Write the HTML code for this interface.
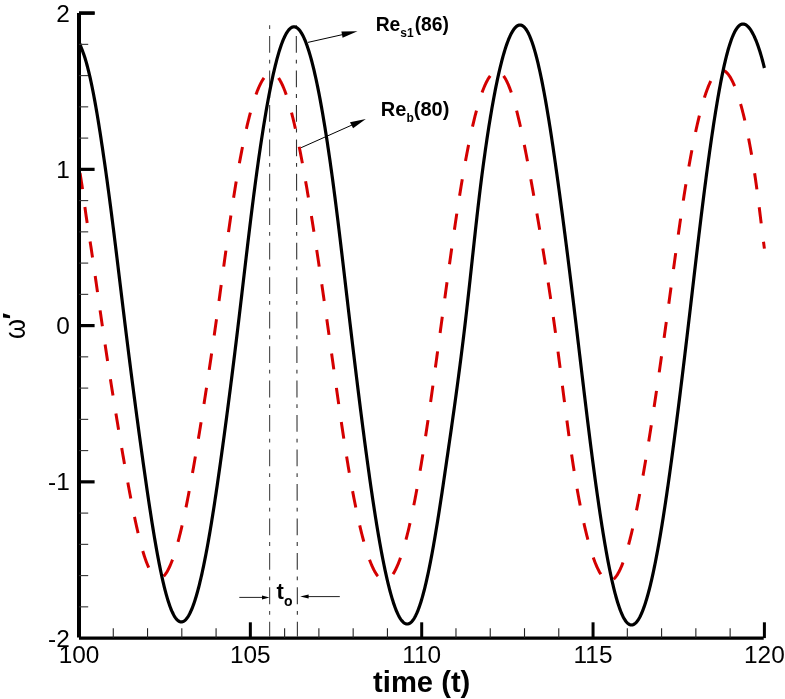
<!DOCTYPE html>
<html><head><meta charset="utf-8"><title>plot</title>
<style>html,body{margin:0;padding:0;background:#fff;width:785px;height:699px;overflow:hidden}svg{display:block}</style>
</head><body>
<svg width="785" height="699" viewBox="0 0 785 699">
<style>
.tl{font-family:"Liberation Sans",Arial,sans-serif;font-size:24.4px;fill:#000}
.bd{font-family:"Liberation Sans",Arial,sans-serif;font-weight:bold;fill:#000}
</style>
<rect width="785" height="699" fill="#fff"/>
<!-- dash-dot vertical lines -->
<line x1="269.6" y1="25.2" x2="269.6" y2="636.5" stroke="#555" stroke-width="1.2" stroke-dasharray="3.8 7.0 16.8 6.86"/>
<line x1="296.3" y1="25.2" x2="297.4" y2="636.5" stroke="#333" stroke-width="1.1" stroke-dasharray="3.8 7.0 16.8 6.86"/>
<!-- red dashed curve -->
<path d="M80.00,172.97 L80.30,174.82 L80.60,176.69 L80.90,178.56 L81.20,180.46 L81.50,182.36 L81.80,184.30 L82.10,186.31 L82.40,188.38 L82.50,189.09 M84.90,207.04 L85.20,209.27 L85.50,211.47 L85.80,213.61 L86.10,215.69 L86.40,217.73 L86.70,219.74 L87.00,221.72 L87.20,223.04 M90.10,241.52 L90.40,243.45 L90.70,245.39 L91.00,247.35 L91.30,249.33 L91.60,251.34 L91.90,253.36 L92.20,255.38 L92.50,257.42 M95.20,276.02 L95.50,278.11 L95.80,280.21 L96.10,282.30 L96.40,284.41 L96.70,286.51 L97.00,288.62 L97.30,290.72 L97.50,292.13 M100.10,310.36 L100.40,312.45 L100.70,314.54 L101.00,316.63 L101.30,318.71 L101.60,320.78 L101.90,322.85 L102.20,324.91 L102.40,326.29 M105.10,344.56 L105.40,346.57 L105.70,348.56 L106.00,350.56 L106.30,352.54 L106.60,354.52 L106.90,356.50 L107.20,358.47 L107.50,360.44 L107.60,361.09 M110.40,379.17 L110.70,381.09 L111.00,382.99 L111.30,384.89 L111.60,386.79 L111.90,388.68 L112.20,390.57 L112.50,392.45 L112.80,394.33 L113.00,395.58 M115.90,413.46 L116.20,415.28 L116.50,417.11 L116.80,418.92 L117.10,420.73 L117.40,422.54 L117.70,424.35 L118.00,426.14 L118.30,427.94 L118.60,429.73 M121.70,447.97 L122.00,449.71 L122.30,451.44 L122.60,453.17 L122.90,454.90 L123.20,456.62 L123.50,458.34 L123.80,460.05 L124.10,461.76 L124.40,463.46 L124.50,464.03 M127.80,482.40 L128.10,484.03 L128.40,485.66 L128.70,487.29 L129.00,488.90 L129.30,490.51 L129.60,492.11 L129.90,493.70 L130.20,495.28 L130.50,496.86 L130.80,498.42 M134.50,516.89 L134.80,518.31 L135.10,519.72 L135.40,521.12 L135.70,522.51 L136.00,523.88 L136.30,525.24 L136.60,526.58 L136.90,527.91 L137.20,529.23 L137.50,530.54 L137.80,531.83 L138.10,533.10 M142.80,551.05 L143.10,552.06 L143.40,553.05 L143.70,554.02 L144.00,554.98 L144.30,555.92 L144.60,556.84 L144.90,557.74 L145.20,558.62 L145.50,559.49 L145.80,560.34 L146.10,561.17 L146.40,561.98 L146.70,562.77 L147.00,563.54 L147.30,564.29 L147.60,565.03 L147.90,565.75 L148.20,566.44 L148.50,567.12 L148.70,567.56 M163.60,576.27 L163.90,575.96 L164.20,575.64 L164.50,575.30 L164.80,574.94 L165.10,574.57 L165.40,574.17 L165.70,573.76 L166.00,573.33 L166.30,572.88 L166.60,572.41 L166.90,571.93 L167.20,571.42 L167.50,570.90 L167.80,570.36 L168.10,569.81 L168.40,569.23 L168.70,568.64 L169.00,568.03 L169.30,567.40 L169.60,566.76 L169.90,566.10 L170.20,565.42 L170.50,564.72 L170.80,564.01 L171.10,563.28 L171.40,562.53 L171.70,561.76 L172.00,560.98 L172.30,560.18 L172.50,559.64 M178.00,541.92 L178.30,540.80 L178.60,539.67 L178.90,538.52 L179.20,537.36 L179.50,536.18 L179.80,534.99 L180.10,533.78 L180.40,532.56 L180.70,531.33 L181.00,530.08 L181.30,528.82 L181.60,527.55 L181.90,526.26 L182.10,525.39 M186.00,507.33 L186.30,505.86 L186.60,504.37 L186.90,502.87 L187.20,501.36 L187.50,499.84 L187.80,498.31 L188.10,496.76 L188.40,495.21 L188.70,493.64 L189.00,492.07 L189.20,491.01 M192.50,472.98 L192.80,471.29 L193.10,469.60 L193.40,467.90 L193.70,466.19 L194.00,464.48 L194.30,462.76 L194.60,461.04 L194.90,459.30 L195.20,457.57 L195.40,456.40 M198.40,438.64 L198.70,436.83 L199.00,435.02 L199.30,433.19 L199.60,431.37 L199.90,429.53 L200.20,427.70 L200.50,425.85 L200.80,424.00 L201.10,422.14 M204.00,403.90 L204.30,401.98 L204.60,400.06 L204.90,398.13 L205.20,396.20 L205.50,394.25 L205.80,392.31 L206.10,390.36 L206.40,388.40 L206.50,387.74 M209.20,369.85 L209.50,367.83 L209.80,365.81 L210.10,363.78 L210.40,361.75 L210.70,359.71 L211.00,357.66 L211.30,355.61 L211.60,353.56 M214.20,335.50 L214.50,333.39 L214.80,331.27 L215.10,329.15 L215.40,327.02 L215.70,324.89 L216.00,322.75 L216.30,320.60 L216.50,319.17 M219.00,301.06 L219.30,298.87 L219.60,296.68 L219.90,294.49 L220.20,292.29 L220.50,290.09 L220.80,287.89 L221.10,285.69 L221.20,284.95 M223.70,266.63 L224.00,264.44 L224.30,262.25 L224.60,260.07 L224.90,257.88 L225.20,255.71 L225.50,253.53 L225.80,251.37 L225.90,250.65 M228.50,232.13 L228.80,230.02 L229.10,227.93 L229.40,225.85 L229.70,223.77 L230.00,221.70 L230.30,219.65 L230.60,217.60 L230.90,215.57 M233.60,197.75 L233.90,195.83 L234.20,193.93 L234.50,192.04 L234.80,190.16 L235.10,188.30 L235.40,186.45 L235.70,184.61 L236.00,182.79 L236.20,181.59 M239.40,163.24 L239.70,161.60 L240.00,159.98 L240.30,158.38 L240.60,156.78 L240.90,155.20 L241.20,153.64 L241.50,152.09 L241.80,150.55 L242.10,149.03 L242.40,147.53 L242.50,147.03 M246.40,128.80 L246.70,127.50 L247.00,126.21 L247.30,124.94 L247.60,123.69 L247.90,122.44 L248.20,121.22 L248.50,120.00 L248.80,118.80 L249.10,117.62 L249.40,116.45 L249.70,115.30 L250.00,114.16 L250.30,113.04 L250.40,112.66 M256.00,94.53 L256.30,93.71 L256.60,92.90 L256.90,92.11 L257.20,91.33 L257.50,90.57 L257.80,89.82 L258.10,89.09 L258.40,88.38 L258.70,87.68 L259.00,87.00 L259.30,86.33 L259.60,85.68 L259.90,85.04 L260.20,84.42 L260.50,83.82 L260.80,83.23 L261.10,82.66 L261.40,82.10 L261.70,81.56 L262.00,81.03 L262.30,80.52 L262.60,80.03 L262.90,79.55 L263.20,79.09 L263.50,78.65 L263.80,78.22 L264.00,77.94 M278.50,78.00 L278.80,78.43 L279.10,78.88 L279.40,79.35 L279.70,79.84 L280.00,80.34 L280.30,80.87 L280.60,81.41 L280.90,81.96 L281.20,82.54 L281.50,83.13 L281.80,83.74 L282.10,84.37 L282.40,85.01 L282.70,85.68 L283.00,86.36 L283.30,87.05 L283.60,87.77 L283.90,88.50 L284.20,89.25 L284.50,90.01 L284.80,90.79 L285.10,91.59 L285.40,92.41 L285.70,93.24 L286.00,94.09 L286.20,94.67 M291.50,112.54 L291.80,113.69 L292.10,114.87 L292.40,116.05 L292.70,117.26 L293.00,118.47 L293.30,119.70 L293.60,120.95 L293.90,122.21 L294.20,123.48 L294.50,124.77 L294.80,126.07 L295.10,127.39 L295.40,128.72 M299.20,146.70 L299.50,148.21 L299.80,149.72 L300.10,151.25 L300.40,152.79 L300.70,154.35 L301.00,155.91 L301.30,157.48 L301.60,159.07 L301.90,160.66 L302.20,162.27 L302.40,163.35 M305.60,181.16 L305.90,182.89 L306.20,184.62 L306.50,186.36 L306.80,188.11 L307.10,189.86 L307.40,191.63 L307.70,193.40 L308.00,195.18 L308.30,196.97 L308.40,197.57 M311.40,215.89 L311.70,217.76 L312.00,219.64 L312.30,221.53 L312.60,223.42 L312.90,225.32 L313.20,227.23 L313.50,229.14 L313.80,231.06 L313.90,231.70 M316.70,249.92 L317.00,251.90 L317.30,253.89 L317.60,255.88 L317.90,257.88 L318.20,259.88 L318.50,261.89 L318.80,263.90 L319.10,265.92 L319.20,266.60 M321.80,284.31 L322.10,286.37 L322.40,288.44 L322.70,290.51 L323.00,292.59 L323.30,294.67 L323.60,296.76 L323.90,298.85 L324.20,300.94 M326.80,319.22 L327.10,321.34 L327.40,323.47 L327.70,325.60 L328.00,327.73 L328.30,329.87 L328.60,332.01 L328.90,334.15 L329.00,334.87 M331.60,353.52 L331.90,355.68 L332.20,357.84 L332.50,359.99 L332.80,362.15 L333.10,364.31 L333.40,366.46 L333.70,368.62 L333.80,369.34 M336.40,387.91 L336.70,390.04 L337.00,392.16 L337.30,394.28 L337.60,396.39 L337.90,398.50 L338.20,400.61 L338.50,402.71 L338.70,404.10 M341.30,422.00 L341.60,424.02 L341.90,426.05 L342.20,428.06 L342.50,430.06 L342.80,432.06 L343.10,434.04 L343.40,436.02 L343.70,437.99 L343.80,438.64 M346.60,456.48 L346.90,458.33 L347.20,460.17 L347.50,462.00 L347.80,463.82 L348.10,465.63 L348.40,467.42 L348.70,469.20 L349.00,470.97 L349.30,472.72 M352.60,491.14 L352.90,492.74 L353.20,494.32 L353.50,495.89 L353.80,497.45 L354.10,498.99 L354.40,500.52 L354.70,502.04 L355.00,503.55 L355.30,505.04 L355.60,506.52 L355.80,507.49 M359.70,525.36 L360.00,526.64 L360.30,527.90 L360.60,529.15 L360.90,530.39 L361.20,531.61 L361.50,532.81 L361.80,534.01 L362.10,535.19 L362.40,536.35 L362.70,537.50 L363.00,538.64 L363.30,539.76 L363.60,540.87 L363.80,541.60 M369.50,559.66 L369.80,560.46 L370.10,561.24 L370.40,562.01 L370.70,562.77 L371.00,563.51 L371.30,564.23 L371.60,564.94 L371.90,565.64 L372.20,566.32 L372.50,566.98 L372.80,567.63 L373.10,568.26 L373.40,568.88 L373.70,569.48 L374.00,570.07 L374.30,570.64 L374.60,571.19 L374.90,571.73 L375.20,572.25 L375.50,572.76 L375.80,573.25 L376.10,573.73 L376.40,574.19 L376.70,574.63 L377.00,575.06 L377.30,575.47 L377.60,575.87 L377.90,576.25 M393.00,574.14 L393.30,573.67 L393.60,573.19 L393.90,572.69 L394.20,572.18 L394.50,571.65 L394.80,571.10 L395.10,570.54 L395.40,569.96 L395.70,569.37 L396.00,568.76 L396.30,568.14 L396.60,567.49 L396.90,566.84 L397.20,566.16 L397.50,565.48 L397.80,564.77 L398.10,564.05 L398.40,563.32 L398.70,562.56 L399.00,561.80 L399.30,561.01 L399.60,560.22 L399.90,559.40 L400.20,558.57 L400.50,557.73 M406.00,539.54 L406.30,538.40 L406.60,537.25 L406.90,536.08 L407.20,534.90 L407.50,533.71 L407.80,532.50 L408.10,531.27 L408.40,530.03 L408.70,528.78 L409.00,527.51 L409.30,526.23 L409.60,524.93 L409.90,523.62 L410.00,523.18 M413.80,505.29 L414.10,503.78 L414.40,502.26 L414.70,500.72 L415.00,499.18 L415.30,497.62 L415.60,496.04 L415.90,494.46 L416.20,492.85 L416.50,491.24 L416.80,489.61 L416.90,489.07 M420.10,470.86 L420.40,469.07 L420.70,467.28 L421.00,465.47 L421.30,463.65 L421.60,461.82 L421.90,459.97 L422.20,458.12 L422.50,456.25 L422.80,454.37 M425.60,436.31 L425.90,434.32 L426.20,432.32 L426.50,430.31 L426.80,428.30 L427.10,426.27 L427.40,424.24 L427.70,422.20 L428.00,420.14 M430.60,402.05 L430.90,399.93 L431.20,397.80 L431.50,395.67 L431.80,393.53 L432.10,391.38 L432.40,389.23 L432.70,387.08 L432.90,385.64 M435.40,367.49 L435.70,365.30 L436.00,363.10 L436.30,360.90 L436.60,358.70 L436.90,356.50 L437.20,354.30 L437.50,352.09 L437.60,351.36 M440.10,332.95 L440.40,330.75 L440.70,328.54 L441.00,326.33 L441.30,324.13 L441.60,321.92 L441.90,319.72 L442.20,317.51 L442.30,316.78 M444.80,298.38 L445.10,296.18 L445.40,293.98 L445.70,291.78 L446.00,289.58 L446.30,287.39 L446.60,285.19 L446.90,283.00 L447.00,282.28 M449.50,264.17 L449.80,262.02 L450.10,259.87 L450.40,257.73 L450.70,255.59 L451.00,253.46 L451.30,251.33 L451.60,249.21 L451.70,248.51 M454.40,229.76 L454.70,227.72 L455.00,225.68 L455.30,223.65 L455.60,221.63 L455.90,219.62 L456.20,217.62 L456.50,215.63 L456.80,213.65 M459.60,195.64 L459.90,193.76 L460.20,191.90 L460.50,190.05 L460.80,188.21 L461.10,186.38 L461.40,184.56 L461.70,182.76 L462.00,180.97 L462.30,179.19 M465.50,161.02 L465.80,159.39 L466.10,157.78 L466.40,156.18 L466.70,154.60 L467.00,153.02 L467.30,151.46 L467.60,149.92 L467.90,148.39 L468.20,146.87 L468.50,145.37 L468.60,144.87 M472.50,126.67 L472.80,125.37 L473.10,124.08 L473.40,122.81 L473.70,121.55 L474.00,120.31 L474.30,119.08 L474.60,117.87 L474.90,116.67 L475.20,115.49 L475.50,114.32 L475.80,113.17 L476.10,112.03 L476.40,110.90 L476.50,110.53 M482.10,92.42 L482.40,91.60 L482.70,90.79 L483.00,90.01 L483.30,89.23 L483.60,88.48 L483.90,87.74 L484.20,87.01 L484.50,86.31 L484.80,85.61 L485.10,84.94 L485.40,84.28 L485.70,83.63 L486.00,83.00 L486.30,82.39 L486.60,81.80 L486.90,81.22 L487.20,80.65 L487.50,80.11 L487.80,79.58 L488.10,79.06 L488.40,78.56 L488.70,78.08 L489.00,77.62 L489.30,77.17 L489.60,76.74 L489.90,76.33 L490.20,75.93 M503.60,75.99 L503.90,76.41 L504.20,76.85 L504.50,77.30 L504.80,77.77 L505.10,78.27 L505.40,78.78 L505.70,79.30 L506.00,79.85 L506.30,80.42 L506.60,81.00 L506.90,81.61 L507.20,82.23 L507.50,82.87 L507.80,83.52 L508.10,84.20 L508.40,84.89 L508.70,85.61 L509.00,86.34 L509.30,87.08 L509.60,87.85 L509.90,88.63 L510.20,89.44 L510.50,90.25 L510.80,91.09 L511.10,91.95 L511.30,92.52 M516.60,110.57 L516.90,111.74 L517.20,112.92 L517.50,114.12 L517.80,115.33 L518.10,116.56 L518.40,117.80 L518.70,119.06 L519.00,120.33 L519.30,121.61 L519.60,122.91 L519.90,124.22 L520.20,125.54 L520.50,126.88 M524.30,144.86 L524.60,146.36 L524.90,147.86 L525.20,149.38 L525.50,150.90 L525.80,152.44 L526.10,153.98 L526.40,155.54 L526.70,157.10 L527.00,158.67 L527.30,160.25 L527.50,161.31 M530.80,179.18 L531.10,180.83 L531.40,182.49 L531.70,184.14 L532.00,185.81 L532.30,187.47 L532.60,189.14 L532.90,190.81 L533.20,192.49 L533.50,194.17 L533.80,195.86 M536.90,213.49 L537.20,215.22 L537.50,216.95 L537.80,218.69 L538.10,220.43 L538.40,222.18 L538.70,223.93 L539.00,225.69 L539.30,227.45 L539.60,229.22 L539.70,229.81 M542.80,248.40 L543.10,250.23 L543.40,252.07 L543.70,253.92 L544.00,255.77 L544.30,257.63 L544.60,259.49 L544.90,261.36 L545.20,263.24 L545.40,264.50 M548.20,282.44 L548.50,284.41 L548.80,286.38 L549.10,288.36 L549.40,290.35 L549.70,292.35 L550.00,294.36 L550.30,296.37 L550.60,298.40 L550.70,299.07 M553.30,317.05 L553.60,319.17 L553.90,321.31 L554.20,323.45 L554.50,325.60 L554.80,327.76 L555.10,329.94 L555.40,332.14 L555.50,332.87 M558.00,351.63 L558.30,353.93 L558.60,356.23 L558.90,358.54 L559.20,360.86 L559.50,363.18 L559.80,365.51 L560.10,367.84 M562.40,385.80 L562.70,388.15 L563.00,390.49 L563.30,392.83 L563.60,395.17 L563.90,397.50 L564.20,399.83 L564.50,402.16 M566.90,420.54 L567.20,422.80 L567.50,425.05 L567.80,427.28 L568.10,429.51 L568.40,431.72 L568.70,433.93 L569.00,436.11 M571.60,454.47 L571.90,456.51 L572.20,458.53 L572.50,460.53 L572.80,462.52 L573.10,464.48 L573.40,466.43 L573.70,468.35 L574.00,470.26 L574.10,470.89 M577.10,488.77 L577.40,490.46 L577.70,492.13 L578.00,493.79 L578.30,495.43 L578.60,497.06 L578.90,498.67 L579.20,500.26 L579.50,501.84 L579.80,503.40 L580.10,504.95 L580.20,505.46 M583.90,523.18 L584.20,524.51 L584.50,525.83 L584.80,527.13 L585.10,528.41 L585.40,529.68 L585.70,530.94 L586.00,532.18 L586.30,533.40 L586.60,534.61 L586.90,535.80 L587.20,536.98 L587.50,538.14 L587.80,539.29 L587.90,539.67 M593.30,557.59 L593.60,558.44 L593.90,559.28 L594.20,560.10 L594.50,560.90 L594.80,561.69 L595.10,562.46 L595.40,563.22 L595.70,563.96 L596.00,564.69 L596.30,565.40 L596.60,566.10 L596.90,566.78 L597.20,567.45 L597.50,568.10 L597.80,568.73 L598.10,569.35 L598.40,569.96 L598.70,570.54 L599.00,571.12 L599.30,571.67 L599.60,572.22 L599.90,572.74 L600.20,573.25 L600.50,573.74 L600.80,574.22 M613.60,579.18 L613.90,578.92 L614.20,578.64 L614.50,578.34 L614.80,578.02 L615.10,577.68 L615.40,577.33 L615.70,576.96 L616.00,576.57 L616.30,576.17 L616.60,575.74 L616.90,575.30 L617.20,574.84 L617.50,574.37 L617.80,573.87 L618.10,573.36 L618.40,572.83 L618.70,572.28 L619.00,571.71 L619.30,571.13 L619.60,570.53 L619.90,569.91 L620.20,569.28 L620.50,568.63 L620.80,567.96 L621.10,567.27 L621.40,566.56 L621.70,565.84 L622.00,565.10 L622.30,564.35 L622.60,563.57 L622.90,562.78 L623.00,562.51 M628.60,544.62 L628.90,543.50 L629.20,542.37 L629.50,541.23 L629.80,540.06 L630.10,538.89 L630.40,537.69 L630.70,536.49 L631.00,535.26 L631.30,534.03 L631.60,532.78 L631.90,531.51 L632.20,530.23 L632.50,528.94 L632.60,528.50 M636.50,510.37 L636.80,508.89 L637.10,507.39 L637.40,505.88 L637.70,504.36 L638.00,502.82 L638.30,501.28 L638.60,499.72 L638.90,498.15 L639.20,496.57 L639.50,494.98 L639.70,493.91 M643.00,475.62 L643.30,473.90 L643.60,472.18 L643.90,470.44 L644.20,468.70 L644.50,466.94 L644.80,465.18 L645.10,463.41 L645.40,461.64 L645.70,459.85 M648.70,441.58 L649.00,439.71 L649.30,437.83 L649.60,435.95 L649.90,434.06 L650.20,432.17 L650.50,430.26 L650.80,428.35 L651.10,426.44 L651.30,425.15 M654.10,406.92 L654.40,404.93 L654.70,402.94 L655.00,400.94 L655.30,398.93 L655.60,396.93 L655.90,394.91 L656.20,392.89 L656.50,390.86 M659.20,372.38 L659.50,370.30 L659.80,368.22 L660.10,366.13 L660.40,364.03 L660.70,361.93 L661.00,359.83 L661.30,357.72 L661.50,356.31 M664.10,337.84 L664.40,335.69 L664.70,333.53 L665.00,331.37 L665.30,329.21 L665.60,327.05 L665.90,324.88 L666.20,322.70 L666.30,321.98 M668.80,303.71 L669.10,301.51 L669.40,299.30 L669.70,297.09 L670.00,294.89 L670.30,292.68 L670.60,290.47 L670.90,288.26 L671.00,287.52 M673.50,269.16 L673.80,266.96 L674.10,264.77 L674.40,262.58 L674.70,260.40 L675.00,258.22 L675.30,256.05 L675.60,253.88 L675.70,253.15 M678.30,234.60 L678.60,232.49 L678.90,230.39 L679.20,228.29 L679.50,226.21 L679.80,224.13 L680.10,222.07 L680.40,220.01 L680.60,218.64 M683.30,200.64 L683.60,198.70 L683.90,196.76 L684.20,194.84 L684.50,192.94 L684.80,191.04 L685.10,189.16 L685.40,187.29 L685.70,185.43 L685.90,184.20 M688.90,166.50 L689.20,164.81 L689.50,163.13 L689.80,161.46 L690.10,159.81 L690.40,158.17 L690.70,156.55 L691.00,154.94 L691.30,153.34 L691.60,151.75 L691.90,150.18 M695.60,131.98 L695.90,130.60 L696.20,129.24 L696.50,127.89 L696.80,126.55 L697.10,125.23 L697.40,123.92 L697.70,122.63 L698.00,121.35 L698.30,120.08 L698.60,118.84 L698.90,117.60 L699.20,116.38 L699.40,115.58 M704.40,97.65 L704.70,96.71 L705.00,95.78 L705.30,94.87 L705.60,93.98 L705.90,93.10 L706.20,92.24 L706.50,91.39 L706.80,90.56 L707.10,89.75 L707.40,88.95 L707.70,88.17 L708.00,87.40 L708.30,86.65 L708.60,85.91 L708.90,85.19 L709.20,84.49 L709.50,83.80 L709.80,83.13 L710.10,82.48 L710.40,81.84 L710.70,81.22 L710.80,81.01 M723.70,70.47 L724.00,70.61 L724.30,70.76 L724.60,70.94 L724.90,71.12 L725.20,71.33 L725.50,71.55 L725.80,71.79 L726.10,72.05 L726.40,72.32 L726.70,72.61 L727.00,72.91 L727.30,73.24 L727.60,73.57 L727.90,73.93 L728.20,74.30 L728.50,74.69 L728.80,75.09 L729.10,75.52 L729.40,75.95 L729.70,76.41 L730.00,76.88 L730.30,77.36 L730.60,77.87 L730.90,78.38 L731.20,78.92 L731.50,79.47 L731.80,80.04 L732.10,80.62 L732.40,81.22 L732.70,81.84 L733.00,82.47 L733.30,83.12 L733.60,83.79 L733.90,84.47 L734.20,85.16 L734.50,85.88 L734.60,86.12 M740.60,103.97 L740.90,105.04 L741.20,106.12 L741.50,107.22 L741.80,108.34 L742.10,109.48 L742.40,110.64 L742.70,111.81 L743.00,113.00 L743.30,114.20 L743.60,115.43 L743.90,116.67 L744.20,117.93 L744.50,119.21 L744.80,120.51 M748.60,138.50 L748.90,140.05 L749.20,141.62 L749.50,143.21 L749.80,144.81 L750.10,146.44 L750.40,148.08 L750.70,149.74 L751.00,151.43 L751.30,153.13 L751.60,154.85 M754.60,173.22 L754.90,175.21 L755.20,177.25 L755.50,179.32 L755.80,181.42 L756.10,183.56 L756.40,185.73 L756.70,187.93 L756.90,189.42 M759.20,207.24 L759.50,209.64 L759.80,212.05 L760.10,214.46 L760.40,216.89 L760.70,219.31 L761.00,221.74 L761.20,223.36 M763.50,241.71 L763.80,244.03 L764.10,246.33 L764.40,248.60 L764.40,248.60" fill="none" stroke="#d40000" stroke-width="3" stroke-linejoin="round"/>
<!-- black curve -->
<path d="M79.00,41.81 L79.50,43.08 L80.00,44.37 L80.50,45.69 L81.00,47.00 L81.50,48.31 L82.00,49.61 L82.50,50.93 L83.00,52.26 L83.50,53.63 L84.00,55.03 L84.50,56.50 L85.00,58.04 L85.50,59.66 L86.00,61.38 L86.50,63.15 L87.00,64.98 L87.50,66.87 L88.00,68.82 L88.50,70.83 L89.00,72.89 L89.50,75.02 L90.00,77.20 L90.50,79.44 L91.00,81.73 L91.50,84.09 L92.00,86.50 L92.50,88.96 L93.00,91.48 L93.50,94.06 L94.00,96.69 L94.50,99.37 L95.00,102.11 L95.50,104.90 L96.00,107.73 L96.50,110.62 L97.00,113.55 L97.50,116.54 L98.00,119.56 L98.50,122.63 L99.00,125.75 L99.50,128.90 L100.00,132.10 L100.50,135.33 L101.00,138.60 L101.50,141.90 L102.00,145.23 L102.50,148.60 L103.00,152.00 L103.50,155.42 L104.00,158.87 L104.50,162.34 L105.00,165.84 L105.50,169.35 L106.00,172.89 L106.50,176.47 L107.00,180.08 L107.50,183.73 L108.00,187.41 L108.50,191.13 L109.00,194.87 L109.50,198.65 L110.00,202.46 L110.50,206.29 L111.00,210.15 L111.50,214.04 L112.00,217.95 L112.50,221.89 L113.00,225.85 L113.50,229.82 L114.00,233.82 L114.50,237.84 L115.00,241.87 L115.50,245.92 L116.00,249.98 L116.50,254.06 L117.00,258.14 L117.50,262.24 L118.00,266.35 L118.50,270.46 L119.00,274.58 L119.50,278.70 L120.00,282.83 L120.50,286.96 L121.00,291.09 L121.50,295.21 L122.00,299.34 L122.50,303.46 L123.00,307.58 L123.50,311.69 L124.00,315.79 L124.50,319.89 L125.00,323.97 L125.50,328.04 L126.00,332.10 L126.50,336.14 L127.00,340.16 L127.50,344.17 L128.00,348.17 L128.50,352.15 L129.00,356.12 L129.50,360.07 L130.00,364.00 L130.50,367.92 L131.00,371.83 L131.50,375.72 L132.00,379.60 L132.50,383.46 L133.00,387.31 L133.50,391.15 L134.00,394.97 L134.50,398.78 L135.00,402.57 L135.50,406.35 L136.00,410.11 L136.50,413.87 L137.00,417.60 L137.50,421.33 L138.00,425.04 L138.50,428.74 L139.00,432.42 L139.50,436.10 L140.00,439.75 L140.50,443.40 L141.00,447.03 L141.50,450.64 L142.00,454.25 L142.50,457.83 L143.00,461.41 L143.50,464.97 L144.00,468.51 L144.50,472.05 L145.00,475.56 L145.50,479.06 L146.00,482.55 L146.50,486.01 L147.00,489.45 L147.50,492.87 L148.00,496.27 L148.50,499.63 L149.00,502.98 L149.50,506.29 L150.00,509.57 L150.50,512.83 L151.00,516.05 L151.50,519.25 L152.00,522.40 L152.50,525.53 L153.00,528.62 L153.50,531.67 L154.00,534.69 L154.50,537.67 L155.00,540.61 L155.50,543.50 L156.00,546.36 L156.50,549.18 L157.00,551.95 L157.50,554.68 L158.00,557.36 L158.50,560.00 L159.00,562.59 L159.50,565.14 L160.00,567.64 L160.50,570.08 L161.00,572.48 L161.50,574.83 L162.00,577.13 L162.50,579.37 L163.00,581.57 L163.50,583.70 L164.00,585.79 L164.50,587.82 L165.00,589.80 L165.50,591.72 L166.00,593.59 L166.50,595.39 L167.00,597.15 L167.50,598.84 L168.00,600.48 L168.50,602.05 L169.00,603.57 L169.50,605.03 L170.00,606.43 L170.50,607.77 L171.00,609.05 L171.50,610.28 L172.00,611.44 L172.50,612.53 L173.00,613.57 L173.50,614.55 L174.00,615.47 L174.50,616.32 L175.00,617.12 L175.50,617.85 L176.00,618.52 L176.50,619.13 L177.00,619.68 L177.50,620.17 L178.00,620.60 L178.50,620.96 L179.00,621.27 L179.50,621.51 L180.00,621.70 L180.50,621.82 L181.00,621.89 L181.50,621.90 L182.00,621.84 L182.50,621.73 L183.00,621.56 L183.50,621.33 L184.00,621.04 L184.50,620.69 L185.00,620.28 L185.50,619.82 L186.00,619.30 L186.50,618.71 L187.00,618.08 L187.50,617.38 L188.00,616.62 L188.50,615.81 L189.00,614.94 L189.50,614.02 L190.00,613.04 L190.50,612.00 L191.00,610.90 L191.50,609.75 L192.00,608.55 L192.50,607.29 L193.00,605.97 L193.50,604.60 L194.00,603.18 L194.50,601.70 L195.00,600.17 L195.50,598.58 L196.00,596.94 L196.50,595.25 L197.00,593.51 L197.50,591.72 L198.00,589.87 L198.50,587.97 L199.00,586.03 L199.50,584.03 L200.00,581.99 L200.50,579.89 L201.00,577.75 L201.50,575.56 L202.00,573.32 L202.50,571.03 L203.00,568.70 L203.50,566.32 L204.00,563.89 L204.50,561.42 L205.00,558.91 L205.50,556.35 L206.00,553.75 L206.50,551.10 L207.00,548.42 L207.50,545.69 L208.00,542.92 L208.50,540.10 L209.00,537.25 L209.50,534.36 L210.00,531.43 L210.50,528.46 L211.00,525.46 L211.50,522.41 L212.00,519.34 L212.50,516.22 L213.00,513.07 L213.50,509.88 L214.00,506.66 L214.50,503.41 L215.00,500.13 L215.50,496.81 L216.00,493.46 L216.50,490.08 L217.00,486.67 L217.50,483.23 L218.00,479.77 L218.50,476.28 L219.00,472.77 L219.50,469.25 L220.00,465.70 L220.50,462.14 L221.00,458.55 L221.50,454.95 L222.00,451.33 L222.50,447.69 L223.00,444.04 L223.50,440.36 L224.00,436.67 L224.50,432.96 L225.00,429.23 L225.50,425.49 L226.00,421.72 L226.50,417.94 L227.00,414.15 L227.50,410.34 L228.00,406.50 L228.50,402.66 L229.00,398.79 L229.50,394.91 L230.00,391.02 L230.50,387.10 L231.00,383.17 L231.50,379.22 L232.00,375.26 L232.50,371.28 L233.00,367.28 L233.50,363.27 L234.00,359.24 L234.50,355.19 L235.00,351.13 L235.50,347.06 L236.00,342.96 L236.50,338.85 L237.00,334.73 L237.50,330.59 L238.00,326.43 L238.50,322.26 L239.00,318.07 L239.50,313.87 L240.00,309.65 L240.50,305.42 L241.00,301.18 L241.50,296.94 L242.00,292.68 L242.50,288.42 L243.00,284.16 L243.50,279.90 L244.00,275.64 L244.50,271.38 L245.00,267.13 L245.50,262.88 L246.00,258.64 L246.50,254.40 L247.00,250.19 L247.50,245.98 L248.00,241.79 L248.50,237.61 L249.00,233.46 L249.50,229.32 L250.00,225.21 L250.50,221.12 L251.00,217.05 L251.50,213.01 L252.00,209.00 L252.50,205.03 L253.00,201.08 L253.50,197.16 L254.00,193.28 L254.50,189.44 L255.00,185.63 L255.50,181.86 L256.00,178.13 L256.50,174.44 L257.00,170.80 L257.50,167.19 L258.00,163.62 L258.50,160.09 L259.00,156.60 L259.50,153.14 L260.00,149.72 L260.50,146.33 L261.00,142.99 L261.50,139.68 L262.00,136.41 L262.50,133.19 L263.00,130.00 L263.50,126.85 L264.00,123.75 L264.50,120.69 L265.00,117.67 L265.50,114.69 L266.00,111.76 L266.50,108.86 L267.00,106.02 L267.50,103.22 L268.00,100.46 L268.50,97.75 L269.00,95.08 L269.50,92.46 L270.00,89.89 L270.50,87.36 L271.00,84.88 L271.50,82.45 L272.00,80.07 L272.50,77.73 L273.00,75.45 L273.50,73.21 L274.00,71.02 L274.50,68.88 L275.00,66.79 L275.50,64.75 L276.00,62.77 L276.50,60.83 L277.00,58.94 L277.50,57.11 L278.00,55.32 L278.50,53.59 L279.00,51.91 L279.50,50.29 L280.00,48.71 L280.50,47.19 L281.00,45.73 L281.50,44.31 L282.00,42.95 L282.50,41.64 L283.00,40.39 L283.50,39.19 L284.00,38.05 L284.50,36.96 L285.00,35.92 L285.50,34.94 L286.00,34.02 L286.50,33.15 L287.00,32.33 L287.50,31.57 L288.00,30.87 L288.50,30.22 L289.00,29.63 L289.50,29.09 L290.00,28.61 L290.50,28.19 L291.00,27.82 L291.50,27.51 L292.00,27.25 L292.50,27.06 L293.00,26.91 L293.50,26.83 L294.00,26.80 L294.50,26.83 L295.00,26.91 L295.50,27.06 L296.00,27.25 L296.50,27.51 L297.00,27.82 L297.50,28.18 L298.00,28.61 L298.50,29.08 L299.00,29.62 L299.50,30.20 L300.00,30.85 L300.50,31.54 L301.00,32.29 L301.50,33.10 L302.00,33.96 L302.50,34.87 L303.00,35.84 L303.50,36.86 L304.00,37.93 L304.50,39.06 L305.00,40.24 L305.50,41.47 L306.00,42.75 L306.50,44.09 L307.00,45.47 L307.50,46.91 L308.00,48.40 L308.50,49.94 L309.00,51.53 L309.50,53.18 L310.00,54.87 L310.50,56.61 L311.00,58.41 L311.50,60.25 L312.00,62.14 L312.50,64.08 L313.00,66.07 L313.50,68.11 L314.00,70.20 L314.50,72.33 L315.00,74.52 L315.50,76.75 L316.00,79.03 L316.50,81.35 L317.00,83.72 L317.50,86.14 L318.00,88.61 L318.50,91.12 L319.00,93.67 L319.50,96.28 L320.00,98.92 L320.50,101.61 L321.00,104.35 L321.50,107.13 L322.00,109.96 L322.50,112.82 L323.00,115.74 L323.50,118.69 L324.00,121.69 L324.50,124.73 L325.00,127.81 L325.50,130.93 L326.00,134.09 L326.50,137.30 L327.00,140.54 L327.50,143.83 L328.00,147.15 L328.50,150.52 L329.00,153.92 L329.50,157.36 L330.00,160.84 L330.50,164.36 L331.00,167.92 L331.50,171.51 L332.00,175.15 L332.50,178.82 L333.00,182.54 L333.50,186.30 L334.00,190.09 L334.50,193.93 L335.00,197.79 L335.50,201.70 L336.00,205.63 L336.50,209.60 L337.00,213.59 L337.50,217.62 L338.00,221.67 L338.50,225.75 L339.00,229.86 L339.50,233.98 L340.00,238.13 L340.50,242.30 L341.00,246.49 L341.50,250.69 L342.00,254.90 L342.50,259.14 L343.00,263.38 L343.50,267.63 L344.00,271.89 L344.50,276.16 L345.00,280.43 L345.50,284.71 L346.00,288.99 L346.50,293.26 L347.00,297.54 L347.50,301.81 L348.00,306.08 L348.50,310.34 L349.00,314.59 L349.50,318.84 L350.00,323.07 L350.50,327.29 L351.00,331.50 L351.50,335.70 L352.00,339.89 L352.50,344.07 L353.00,348.24 L353.50,352.40 L354.00,356.55 L354.50,360.68 L355.00,364.81 L355.50,368.92 L356.00,373.02 L356.50,377.10 L357.00,381.17 L357.50,385.22 L358.00,389.26 L358.50,393.29 L359.00,397.29 L359.50,401.28 L360.00,405.26 L360.50,409.21 L361.00,413.15 L361.50,417.07 L362.00,420.97 L362.50,424.85 L363.00,428.71 L363.50,432.56 L364.00,436.38 L364.50,440.18 L365.00,443.95 L365.50,447.71 L366.00,451.44 L366.50,455.15 L367.00,458.84 L367.50,462.50 L368.00,466.14 L368.50,469.76 L369.00,473.34 L369.50,476.91 L370.00,480.44 L370.50,483.95 L371.00,487.43 L371.50,490.88 L372.00,494.29 L372.50,497.67 L373.00,501.02 L373.50,504.33 L374.00,507.60 L374.50,510.85 L375.00,514.05 L375.50,517.22 L376.00,520.35 L376.50,523.45 L377.00,526.51 L377.50,529.52 L378.00,532.50 L378.50,535.44 L379.00,538.34 L379.50,541.20 L380.00,544.01 L380.50,546.79 L381.00,549.52 L381.50,552.21 L382.00,554.86 L382.50,557.46 L383.00,560.02 L383.50,562.54 L384.00,565.01 L384.50,567.44 L385.00,569.82 L385.50,572.15 L386.00,574.44 L386.50,576.68 L387.00,578.87 L387.50,581.01 L388.00,583.11 L388.50,585.16 L389.00,587.16 L389.50,589.11 L390.00,591.01 L390.50,592.86 L391.00,594.66 L391.50,596.40 L392.00,598.10 L392.50,599.75 L393.00,601.34 L393.50,602.89 L394.00,604.38 L394.50,605.82 L395.00,607.20 L395.50,608.53 L396.00,609.81 L396.50,611.04 L397.00,612.21 L397.50,613.33 L398.00,614.39 L398.50,615.40 L399.00,616.35 L399.50,617.25 L400.00,618.09 L400.50,618.88 L401.00,619.61 L401.50,620.29 L402.00,620.91 L402.50,621.47 L403.00,621.98 L403.50,622.43 L404.00,622.83 L404.50,623.16 L405.00,623.44 L405.50,623.67 L406.00,623.83 L406.50,623.94 L407.00,624.00 L407.50,623.99 L408.00,623.93 L408.50,623.80 L409.00,623.62 L409.50,623.39 L410.00,623.09 L410.50,622.73 L411.00,622.32 L411.50,621.84 L412.00,621.31 L412.50,620.72 L413.00,620.07 L413.50,619.36 L414.00,618.59 L414.50,617.76 L415.00,616.87 L415.50,615.92 L416.00,614.91 L416.50,613.85 L417.00,612.73 L417.50,611.54 L418.00,610.30 L418.50,609.01 L419.00,607.65 L419.50,606.24 L420.00,604.77 L420.50,603.24 L421.00,601.66 L421.50,600.02 L422.00,598.33 L422.50,596.58 L423.00,594.78 L423.50,592.92 L424.00,591.01 L424.50,589.05 L425.00,587.03 L425.50,584.97 L426.00,582.85 L426.50,580.68 L427.00,578.46 L427.50,576.19 L428.00,573.88 L428.50,571.51 L429.00,569.10 L429.50,566.65 L430.00,564.14 L430.50,561.59 L431.00,559.00 L431.50,556.37 L432.00,553.69 L432.50,550.97 L433.00,548.21 L433.50,545.41 L434.00,542.58 L434.50,539.70 L435.00,536.79 L435.50,533.84 L436.00,530.85 L436.50,527.83 L437.00,524.78 L437.50,521.70 L438.00,518.58 L438.50,515.44 L439.00,512.26 L439.50,509.06 L440.00,505.83 L440.50,502.57 L441.00,499.29 L441.50,495.98 L442.00,492.65 L442.50,489.30 L443.00,485.92 L443.50,482.53 L444.00,479.12 L444.50,475.71 L445.00,472.30 L445.50,468.88 L446.00,465.46 L446.50,462.03 L447.00,458.60 L447.50,455.17 L448.00,451.73 L448.50,448.28 L449.00,444.82 L449.50,441.36 L450.00,437.89 L450.50,434.40 L451.00,430.91 L451.50,427.41 L452.00,423.89 L452.50,420.36 L453.00,416.82 L453.50,413.26 L454.00,409.69 L454.50,406.10 L455.00,402.49 L455.50,398.86 L456.00,395.21 L456.50,391.53 L457.00,387.84 L457.50,384.12 L458.00,380.38 L458.50,376.61 L459.00,372.81 L459.50,368.99 L460.00,365.14 L460.50,361.25 L461.00,357.34 L461.50,353.39 L462.00,349.41 L462.50,345.39 L463.00,341.34 L463.50,337.25 L464.00,333.12 L464.50,328.96 L465.00,324.76 L465.50,320.50 L466.00,316.19 L466.50,311.84 L467.00,307.43 L467.50,302.99 L468.00,298.51 L468.50,293.99 L469.00,289.45 L469.50,284.88 L470.00,280.30 L470.50,275.69 L471.00,271.08 L471.50,266.45 L472.00,261.82 L472.50,257.20 L473.00,252.57 L473.50,247.96 L474.00,243.36 L474.50,238.78 L475.00,234.22 L475.50,229.68 L476.00,225.17 L476.50,220.70 L477.00,216.26 L477.50,211.86 L478.00,207.51 L478.50,203.21 L479.00,198.95 L479.50,194.75 L480.00,190.61 L480.50,186.53 L481.00,182.51 L481.50,178.55 L482.00,174.67 L482.50,170.86 L483.00,167.11 L483.50,163.41 L484.00,159.76 L484.50,156.16 L485.00,152.61 L485.50,149.10 L486.00,145.64 L486.50,142.22 L487.00,138.86 L487.50,135.54 L488.00,132.26 L488.50,129.04 L489.00,125.86 L489.50,122.74 L490.00,119.66 L490.50,116.62 L491.00,113.64 L491.50,110.70 L492.00,107.81 L492.50,104.97 L493.00,102.18 L493.50,99.43 L494.00,96.73 L494.50,94.08 L495.00,91.48 L495.50,88.93 L496.00,86.42 L496.50,83.97 L497.00,81.56 L497.50,79.20 L498.00,76.89 L498.50,74.63 L499.00,72.41 L499.50,70.25 L500.00,68.13 L500.50,66.06 L501.00,64.04 L501.50,62.07 L502.00,60.15 L502.50,58.27 L503.00,56.45 L503.50,54.68 L504.00,52.95 L504.50,51.28 L505.00,49.65 L505.50,48.07 L506.00,46.55 L506.50,45.07 L507.00,43.65 L507.50,42.27 L508.00,40.95 L508.50,39.67 L509.00,38.45 L509.50,37.28 L510.00,36.16 L510.50,35.09 L511.00,34.08 L511.50,33.11 L512.00,32.20 L512.50,31.34 L513.00,30.54 L513.50,29.78 L514.00,29.09 L514.50,28.44 L515.00,27.85 L515.50,27.31 L516.00,26.83 L516.50,26.41 L517.00,26.04 L517.50,25.72 L518.00,25.46 L518.50,25.26 L519.00,25.12 L519.50,25.03 L520.00,25.00 L520.50,25.03 L521.00,25.12 L521.50,25.26 L522.00,25.47 L522.50,25.73 L523.00,26.06 L523.50,26.44 L524.00,26.89 L524.50,27.39 L525.00,27.95 L525.50,28.58 L526.00,29.26 L526.50,30.00 L527.00,30.80 L527.50,31.66 L528.00,32.58 L528.50,33.56 L529.00,34.60 L529.50,35.70 L530.00,36.86 L530.50,38.08 L531.00,39.36 L531.50,40.69 L532.00,42.08 L532.50,43.53 L533.00,45.04 L533.50,46.61 L534.00,48.23 L534.50,49.91 L535.00,51.65 L535.50,53.44 L536.00,55.29 L536.50,57.19 L537.00,59.15 L537.50,61.16 L538.00,63.23 L538.50,65.35 L539.00,67.52 L539.50,69.74 L540.00,72.02 L540.50,74.34 L541.00,76.72 L541.50,79.15 L542.00,81.62 L542.50,84.15 L543.00,86.72 L543.50,89.34 L544.00,92.01 L544.50,94.72 L545.00,97.48 L545.50,100.28 L546.00,103.13 L546.50,106.01 L547.00,108.94 L547.50,111.92 L548.00,114.93 L548.50,117.98 L549.00,121.07 L549.50,124.20 L550.00,127.36 L550.50,130.57 L551.00,133.80 L551.50,137.08 L552.00,140.38 L552.50,143.72 L553.00,147.09 L553.50,150.49 L554.00,153.92 L554.50,157.38 L555.00,160.87 L555.50,164.38 L556.00,167.93 L556.50,171.49 L557.00,175.08 L557.50,178.69 L558.00,182.32 L558.50,185.96 L559.00,189.63 L559.50,193.32 L560.00,197.03 L560.50,200.75 L561.00,204.49 L561.50,208.25 L562.00,212.03 L562.50,215.82 L563.00,219.64 L563.50,223.46 L564.00,227.31 L564.50,231.17 L565.00,235.05 L565.50,238.94 L566.00,242.85 L566.50,246.77 L567.00,250.71 L567.50,254.66 L568.00,258.63 L568.50,262.61 L569.00,266.61 L569.50,270.62 L570.00,274.64 L570.50,278.68 L571.00,282.73 L571.50,286.79 L572.00,290.87 L572.50,294.96 L573.00,299.06 L573.50,303.18 L574.00,307.31 L574.50,311.44 L575.00,315.59 L575.50,319.76 L576.00,323.93 L576.50,328.11 L577.00,332.30 L577.50,336.50 L578.00,340.70 L578.50,344.91 L579.00,349.11 L579.50,353.33 L580.00,357.54 L580.50,361.75 L581.00,365.95 L581.50,370.16 L582.00,374.36 L582.50,378.56 L583.00,382.74 L583.50,386.92 L584.00,391.10 L584.50,395.26 L585.00,399.41 L585.50,403.54 L586.00,407.67 L586.50,411.77 L587.00,415.87 L587.50,419.94 L588.00,424.00 L588.50,428.03 L589.00,432.05 L589.50,436.04 L590.00,440.01 L590.50,443.96 L591.00,447.88 L591.50,451.77 L592.00,455.64 L592.50,459.48 L593.00,463.28 L593.50,467.06 L594.00,470.81 L594.50,474.52 L595.00,478.20 L595.50,481.85 L596.00,485.46 L596.50,489.05 L597.00,492.60 L597.50,496.11 L598.00,499.60 L598.50,503.05 L599.00,506.46 L599.50,509.84 L600.00,513.18 L600.50,516.49 L601.00,519.75 L601.50,522.98 L602.00,526.17 L602.50,529.31 L603.00,532.42 L603.50,535.49 L604.00,538.51 L604.50,541.49 L605.00,544.42 L605.50,547.31 L606.00,550.16 L606.50,552.96 L607.00,555.72 L607.50,558.42 L608.00,561.08 L608.50,563.70 L609.00,566.26 L609.50,568.77 L610.00,571.24 L610.50,573.65 L611.00,576.02 L611.50,578.33 L612.00,580.59 L612.50,582.80 L613.00,584.96 L613.50,587.06 L614.00,589.11 L614.50,591.11 L615.00,593.05 L615.50,594.93 L616.00,596.77 L616.50,598.54 L617.00,600.27 L617.50,601.93 L618.00,603.54 L618.50,605.09 L619.00,606.59 L619.50,608.03 L620.00,609.41 L620.50,610.73 L621.00,612.00 L621.50,613.20 L622.00,614.35 L622.50,615.44 L623.00,616.48 L623.50,617.45 L624.00,618.36 L624.50,619.22 L625.00,620.02 L625.50,620.76 L626.00,621.43 L626.50,622.05 L627.00,622.61 L627.50,623.12 L628.00,623.56 L628.50,623.94 L629.00,624.27 L629.50,624.53 L630.00,624.74 L630.50,624.88 L631.00,624.97 L631.50,625.00 L632.00,624.97 L632.50,624.88 L633.00,624.74 L633.50,624.53 L634.00,624.27 L634.50,623.95 L635.00,623.57 L635.50,623.14 L636.00,622.64 L636.50,622.09 L637.00,621.48 L637.50,620.82 L638.00,620.10 L638.50,619.32 L639.00,618.49 L639.50,617.60 L640.00,616.66 L640.50,615.66 L641.00,614.61 L641.50,613.50 L642.00,612.33 L642.50,611.12 L643.00,609.84 L643.50,608.52 L644.00,607.14 L644.50,605.71 L645.00,604.22 L645.50,602.69 L646.00,601.10 L646.50,599.46 L647.00,597.77 L647.50,596.02 L648.00,594.23 L648.50,592.38 L649.00,590.49 L649.50,588.54 L650.00,586.55 L650.50,584.51 L651.00,582.41 L651.50,580.27 L652.00,578.09 L652.50,575.85 L653.00,573.57 L653.50,571.24 L654.00,568.87 L654.50,566.44 L655.00,563.98 L655.50,561.47 L656.00,558.91 L656.50,556.31 L657.00,553.66 L657.50,550.98 L658.00,548.25 L658.50,545.47 L659.00,542.66 L659.50,539.80 L660.00,536.90 L660.50,533.97 L661.00,530.99 L661.50,527.97 L662.00,524.91 L662.50,521.82 L663.00,518.68 L663.50,515.51 L664.00,512.31 L664.50,509.06 L665.00,505.78 L665.50,502.46 L666.00,499.11 L666.50,495.73 L667.00,492.31 L667.50,488.85 L668.00,485.37 L668.50,481.85 L669.00,478.30 L669.50,474.73 L670.00,471.13 L670.50,467.51 L671.00,463.86 L671.50,460.19 L672.00,456.49 L672.50,452.77 L673.00,449.03 L673.50,445.26 L674.00,441.47 L674.50,437.66 L675.00,433.83 L675.50,429.98 L676.00,426.11 L676.50,422.22 L677.00,418.31 L677.50,414.38 L678.00,410.43 L678.50,406.46 L679.00,402.48 L679.50,398.47 L680.00,394.45 L680.50,390.42 L681.00,386.37 L681.50,382.30 L682.00,378.21 L682.50,374.11 L683.00,370.00 L683.50,365.87 L684.00,361.73 L684.50,357.57 L685.00,353.40 L685.50,349.22 L686.00,345.03 L686.50,340.82 L687.00,336.61 L687.50,332.38 L688.00,328.15 L688.50,323.90 L689.00,319.64 L689.50,315.38 L690.00,311.11 L690.50,306.83 L691.00,302.54 L691.50,298.25 L692.00,293.96 L692.50,289.67 L693.00,285.38 L693.50,281.09 L694.00,276.80 L694.50,272.52 L695.00,268.25 L695.50,263.98 L696.00,259.72 L696.50,255.46 L697.00,251.23 L697.50,247.00 L698.00,242.79 L698.50,238.59 L699.00,234.41 L699.50,230.25 L700.00,226.10 L700.50,221.98 L701.00,217.88 L701.50,213.80 L702.00,209.75 L702.50,205.72 L703.00,201.72 L703.50,197.75 L704.00,193.81 L704.50,189.90 L705.00,186.02 L705.50,182.17 L706.00,178.36 L706.50,174.58 L707.00,170.84 L707.50,167.13 L708.00,163.45 L708.50,159.80 L709.00,156.18 L709.50,152.59 L710.00,149.03 L710.50,145.51 L711.00,142.02 L711.50,138.56 L712.00,135.14 L712.50,131.76 L713.00,128.42 L713.50,125.11 L714.00,121.85 L714.50,118.62 L715.00,115.44 L715.50,112.31 L716.00,109.21 L716.50,106.16 L717.00,103.16 L717.50,100.21 L718.00,97.30 L718.50,94.44 L719.00,91.63 L719.50,88.87 L720.00,86.17 L720.50,83.51 L721.00,80.91 L721.50,78.36 L722.00,75.86 L722.50,73.42 L723.00,71.03 L723.50,68.70 L724.00,66.42 L724.50,64.21 L725.00,62.04 L725.50,59.94 L726.00,57.89 L726.50,55.91 L727.00,53.98 L727.50,52.11 L728.00,50.30 L728.50,48.55 L729.00,46.86 L729.50,45.23 L730.00,43.66 L730.50,42.15 L731.00,40.70 L731.50,39.32 L732.00,37.99 L732.50,36.73 L733.00,35.52 L733.50,34.38 L734.00,33.30 L734.50,32.27 L735.00,31.31 L735.50,30.41 L736.00,29.57 L736.50,28.79 L737.00,28.07 L737.50,27.41 L738.00,26.81 L738.50,26.27 L739.00,25.79 L739.50,25.37 L740.00,25.00 L740.50,24.69 L741.00,24.44 L741.50,24.25 L742.00,24.11 L742.50,24.03 L743.00,24.00 L743.50,24.03 L744.00,24.11 L744.50,24.24 L745.00,24.43 L745.50,24.66 L746.00,24.95 L746.50,25.28 L747.00,25.67 L747.50,26.10 L748.00,26.58 L748.50,27.11 L749.00,27.68 L749.50,28.30 L750.00,28.96 L750.50,29.68 L751.00,30.43 L751.50,31.23 L752.00,32.08 L752.50,32.97 L753.00,33.91 L753.50,34.89 L754.00,35.91 L754.50,36.98 L755.00,38.10 L755.50,39.26 L756.00,40.47 L756.50,41.72 L757.00,43.02 L757.50,44.37 L758.00,45.76 L758.50,47.20 L759.00,48.69 L759.50,50.23 L760.00,51.81 L760.50,53.45 L761.00,55.13 L761.50,56.87 L762.00,58.66 L762.50,60.50 L763.00,62.40 L763.50,64.35 L764.00,66.35 L764.40,68.00" fill="none" stroke="#000" stroke-width="3.2" stroke-linejoin="round"/>
<!-- axes -->
<line x1="79" y1="13" x2="79" y2="637.4" stroke="#000" stroke-width="4"/>
<line x1="79" y1="638.1" x2="763.7" y2="638.1" stroke="#000" stroke-width="3.1"/>
<line x1="79" y1="13.1" x2="94.6" y2="13.1" stroke="#000" stroke-width="3.2"/>
<line x1="113.27" y1="638.1" x2="113.27" y2="628.2" stroke="#222" stroke-width="1.1"/><line x1="147.54" y1="638.1" x2="147.54" y2="628.2" stroke="#222" stroke-width="1.1"/><line x1="181.81" y1="638.1" x2="181.81" y2="628.2" stroke="#222" stroke-width="1.1"/><line x1="216.08" y1="638.1" x2="216.08" y2="628.2" stroke="#222" stroke-width="1.1"/><line x1="250.35" y1="638.1" x2="250.35" y2="622.3" stroke="#000" stroke-width="3"/><line x1="284.62" y1="638.1" x2="284.62" y2="628.2" stroke="#222" stroke-width="1.1"/><line x1="318.89" y1="638.1" x2="318.89" y2="628.2" stroke="#222" stroke-width="1.1"/><line x1="353.16" y1="638.1" x2="353.16" y2="628.2" stroke="#222" stroke-width="1.1"/><line x1="387.43" y1="638.1" x2="387.43" y2="628.2" stroke="#222" stroke-width="1.1"/><line x1="421.70" y1="638.1" x2="421.70" y2="622.3" stroke="#000" stroke-width="3"/><line x1="455.97" y1="638.1" x2="455.97" y2="628.2" stroke="#222" stroke-width="1.1"/><line x1="490.24" y1="638.1" x2="490.24" y2="628.2" stroke="#222" stroke-width="1.1"/><line x1="524.51" y1="638.1" x2="524.51" y2="628.2" stroke="#222" stroke-width="1.1"/><line x1="558.78" y1="638.1" x2="558.78" y2="628.2" stroke="#222" stroke-width="1.1"/><line x1="593.05" y1="638.1" x2="593.05" y2="622.3" stroke="#000" stroke-width="3"/><line x1="627.32" y1="638.1" x2="627.32" y2="628.2" stroke="#222" stroke-width="1.1"/><line x1="661.59" y1="638.1" x2="661.59" y2="628.2" stroke="#222" stroke-width="1.1"/><line x1="695.86" y1="638.1" x2="695.86" y2="628.2" stroke="#222" stroke-width="1.1"/><line x1="730.13" y1="638.1" x2="730.13" y2="628.2" stroke="#222" stroke-width="1.1"/><line x1="764.40" y1="638.1" x2="764.40" y2="622.3" stroke="#000" stroke-width="3"/><line x1="79" y1="606.85" x2="88.2" y2="606.85" stroke="#333" stroke-width="1.1"/><line x1="79" y1="575.60" x2="88.2" y2="575.60" stroke="#333" stroke-width="1.1"/><line x1="79" y1="544.35" x2="88.2" y2="544.35" stroke="#333" stroke-width="1.1"/><line x1="79" y1="513.10" x2="88.2" y2="513.10" stroke="#333" stroke-width="1.1"/><line x1="79" y1="481.85" x2="94.6" y2="481.85" stroke="#000" stroke-width="3.2"/><line x1="79" y1="450.60" x2="88.2" y2="450.60" stroke="#333" stroke-width="1.1"/><line x1="79" y1="419.35" x2="88.2" y2="419.35" stroke="#333" stroke-width="1.1"/><line x1="79" y1="388.10" x2="88.2" y2="388.10" stroke="#333" stroke-width="1.1"/><line x1="79" y1="356.85" x2="88.2" y2="356.85" stroke="#333" stroke-width="1.1"/><line x1="79" y1="325.60" x2="94.6" y2="325.60" stroke="#000" stroke-width="3.2"/><line x1="79" y1="294.35" x2="88.2" y2="294.35" stroke="#333" stroke-width="1.1"/><line x1="79" y1="263.10" x2="88.2" y2="263.10" stroke="#333" stroke-width="1.1"/><line x1="79" y1="231.85" x2="88.2" y2="231.85" stroke="#333" stroke-width="1.1"/><line x1="79" y1="200.60" x2="88.2" y2="200.60" stroke="#333" stroke-width="1.1"/><line x1="79" y1="169.35" x2="94.6" y2="169.35" stroke="#000" stroke-width="3.2"/><line x1="79" y1="138.10" x2="88.2" y2="138.10" stroke="#333" stroke-width="1.1"/><line x1="79" y1="106.85" x2="88.2" y2="106.85" stroke="#333" stroke-width="1.1"/><line x1="79" y1="75.60" x2="88.2" y2="75.60" stroke="#333" stroke-width="1.1"/><line x1="79" y1="44.35" x2="88.2" y2="44.35" stroke="#333" stroke-width="1.1"/><line x1="79" y1="13.10" x2="94.6" y2="13.10" stroke="#000" stroke-width="3.2"/>
<text x="69.8" y="21.70" text-anchor="end" class="tl">2</text><text x="69.8" y="177.95" text-anchor="end" class="tl">1</text><text x="69.8" y="334.20" text-anchor="end" class="tl">0</text><text x="69.8" y="490.45" text-anchor="end" class="tl">-1</text><text x="69.8" y="646.70" text-anchor="end" class="tl">-2</text>
<text x="79.00" y="663.1" text-anchor="middle" class="tl">100</text><text x="250.35" y="663.1" text-anchor="middle" class="tl">105</text><text x="421.70" y="663.1" text-anchor="middle" class="tl">110</text><text x="593.05" y="663.1" text-anchor="middle" class="tl">115</text><text x="764.40" y="663.1" text-anchor="middle" class="tl">120</text>
<text x="421.7" y="691.9" text-anchor="middle" class="bd" font-size="29.2">time (t)</text>
<!-- omega prime -->
<text transform="translate(25.2,337.9) rotate(-90) scale(1,1.145)" x="-1" y="0" style="font-family:'Liberation Sans',sans-serif;font-size:25.6px">ω</text>
<text transform="translate(22.2,319.4) rotate(-90)" x="0" y="0" style="font-family:'Liberation Sans',sans-serif;font-weight:bold;font-size:28px">′</text>
<!-- annotations -->
<text x="375.7" y="30.8" class="bd" font-size="19.3">Re<tspan font-size="12" dy="5.7">s1</tspan><tspan dy="-5.7" dx="1">(86)</tspan></text>
<text x="380.8" y="116.2" class="bd" font-size="20">Re<tspan font-size="12" dy="6.2">b</tspan><tspan dy="-6.2">(80)</tspan></text>
<line x1="307.9" y1="42.4" x2="343" y2="34.5" stroke="#000" stroke-width="1"/>
<polygon points="357.5,31.2 341.4,31.6 342.6,37.8" fill="#000"/>
<line x1="301.1" y1="147.7" x2="352" y2="125" stroke="#000" stroke-width="1"/>
<polygon points="365.8,119 350,122.2 353.1,128.3" fill="#000"/>
<text x="276.6" y="598.8" class="bd" font-size="22">t<tspan font-size="14" dy="6.7">o</tspan></text>
<line x1="239.3" y1="597.4" x2="264" y2="597.4" stroke="#222" stroke-width="1"/>
<polygon points="269.4,597.4 262,595.5 262,599.6" fill="#000"/>
<line x1="339.8" y1="596.6" x2="306" y2="596.6" stroke="#222" stroke-width="1"/>
<polygon points="300.2,596.6 308.6,594.5 308.6,598.5" fill="#000"/>
</svg>
</body></html>
